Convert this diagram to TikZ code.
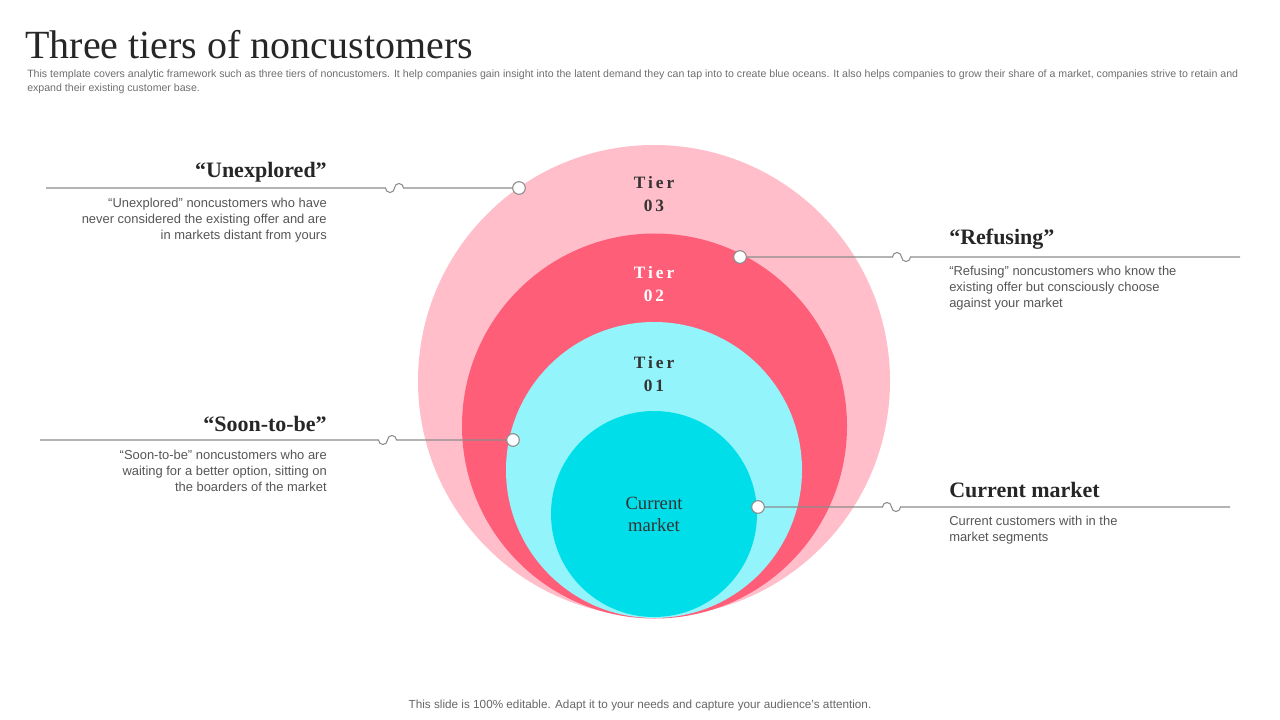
\documentclass[tikz,border=0pt]{standalone}
\usepackage{fontspec}
\setmainfont{Liberation Serif}
\setsansfont{Liberation Sans}
\definecolor{pinkc}{HTML}{FFBEC9}
\definecolor{redc}{HTML}{FF5E79}
\definecolor{lcyan}{HTML}{94F4FB}
\definecolor{cyanc}{HTML}{00DEE9}
\definecolor{txt}{HTML}{555555}
\definecolor{ln}{HTML}{8C8C8C}
\begin{document}
\begin{tikzpicture}[x=0.75pt,y=-0.75pt,
  dot/.style={circle,draw=ln,fill=white,line width=0.8pt,minimum size=9.5pt,inner sep=0pt},
  lnk/.style={draw=ln,line width=0.8pt},
  head/.style={font=\fontsize{16.5}{18}\selectfont\bfseries,text=black!85,inner sep=0pt},
  body/.style={font=\sffamily\fontsize{9.7}{12}\selectfont,text=txt,inner sep=0pt},
  tier/.style={font=\fontsize{13}{17}\selectfont\bfseries,align=center,inner sep=0pt}]
\useasboundingbox (0,0) rectangle (1280,720);
\node[anchor=base west,inner sep=0pt,font=\fontsize{30}{33}\selectfont,text=black!85] (title) at (25,59) {Three tiers of noncustomers};
\node[anchor=north west,inner sep=0pt,align=left,font=\sffamily\fontsize{7.95}{9.8}\selectfont,text=txt!85] (desc) at (27,70) {This template covers analytic framework such as three tiers of noncustomers. It help companies gain insight into the latent demand they can tap into to create blue oceans. It also helps companies to grow their share of a market, companies strive to retain and\\expand their existing customer base.};
\fill[pinkc] (654,381) circle[radius=236];
\fill[redc] (654.5,426) circle[radius=192.5];
\fill[lcyan] (654,470) circle[radius=148];
\fill[cyanc] (654,514) circle[radius=103];
\node[tier,text=black!80] (t3) at (654,194) {T\,i\,e\,r\\0\,3};
\node[tier,text=white] (t2) at (654,284) {T\,i\,e\,r\\0\,2};
\node[tier,text=black!80] (t1) at (654,374) {T\,i\,e\,r\\0\,1};
\node[align=center,font=\fontsize{14}{16.5}\selectfont,text=black!80] (cm) at (654,514) {Current\\market};
\coordinate (uL) at (46,188); \node[dot] (uD) at (519,188) {};
\draw[lnk] (uL) -- (385.5,188) arc[start angle=180,end angle=0,radius=4.5] arc[start angle=180,end angle=360,radius=4.5] -- (uD);
\coordinate (rR) at (1240,257); \node[dot] (rD) at (740,257) {};
\draw[lnk] (rD) -- (892.5,257) arc[start angle=180,end angle=360,radius=4.5] arc[start angle=180,end angle=0,radius=4.5] -- (rR);
\coordinate (sL) at (40,440); \node[dot] (sD) at (513,440) {};
\draw[lnk] (sL) -- (378.5,440) arc[start angle=180,end angle=0,radius=4.5] arc[start angle=180,end angle=360,radius=4.5] -- (sD);
\coordinate (cR) at (1230,507); \node[dot] (cD) at (758,507) {};
\draw[lnk] (cD) -- (882.5,507) arc[start angle=180,end angle=360,radius=4.5] arc[start angle=180,end angle=0,radius=4.5] -- (cR);
\node[head,anchor=east] (uh) at (327,172) {“Unexplored”};
\node[body,anchor=north east,align=right] (ub) at (327,198) {“Unexplored” noncustomers who have\\never considered the existing offer and are\\in markets distant from yours};
\node[head,anchor=west] (rh) at (949,239) {“Refusing”};
\node[body,anchor=north west,align=left] (rb) at (949,266) {“Refusing” noncustomers who know the\\existing offer but consciously choose\\against your market};
\node[head,anchor=east] (sh) at (327,424) {“Soon-to-be”};
\node[body,anchor=north east,align=right] (sb) at (327,450) {“Soon-to-be” noncustomers who are\\waiting for a better option, sitting on\\the boarders of the market};
\node[head,anchor=west] (ch) at (949,490) {Current market};
\node[body,anchor=north west,align=left] (cb) at (949,516) {Current customers with in the\\market segments};
\node[body,text=txt!90,font=\sffamily\fontsize{8.8}{11}\selectfont] (foot) at (640,705) {This slide is 100\% editable. Adapt it to your needs and capture your audience's attention.};
\end{tikzpicture}
\end{document}
